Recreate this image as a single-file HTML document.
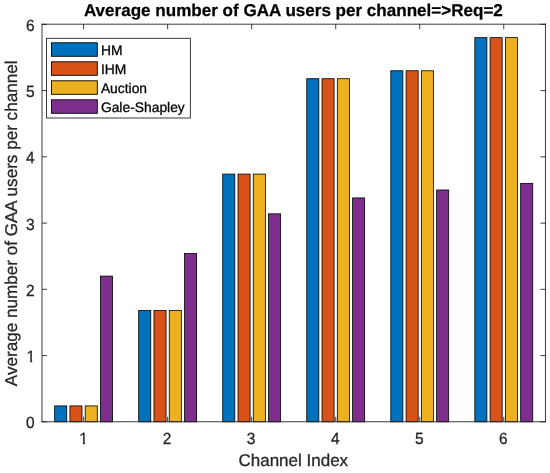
<!DOCTYPE html>
<html lang="en"><head><meta charset="utf-8"><title>Average number of GAA users per channel</title>
<style>html,body{margin:0;padding:0;background:#fff}svg{display:block}text{font-family:"Liberation Sans",Arial,Helvetica,sans-serif;fill:#262626;stroke:#262626;stroke-width:0.28px;text-rendering:geometricPrecision}.tk{font-size:15.5px}.lb{font-size:17.1px}.tt{font-size:17.06px;font-weight:bold;fill:#000;stroke:#000;stroke-width:0.25px}.lg{font-size:13.85px;fill:#000;stroke:#000}</style></head><body>
<svg width="550" height="473" viewBox="0 0 550 473">
<rect x="0" y="0" width="550" height="473" fill="#ffffff"/>
<g stroke="#262626" stroke-width="1" fill="none" stroke-opacity="0.9">
<line x1="83.62" y1="421.75" x2="83.62" y2="416.75"/>
<line x1="83.62" y1="24.2" x2="83.62" y2="29.2"/>
<line x1="167.65" y1="421.75" x2="167.65" y2="416.75"/>
<line x1="167.65" y1="24.2" x2="167.65" y2="29.2"/>
<line x1="251.68" y1="421.75" x2="251.68" y2="416.75"/>
<line x1="251.68" y1="24.2" x2="251.68" y2="29.2"/>
<line x1="335.72" y1="421.75" x2="335.72" y2="416.75"/>
<line x1="335.72" y1="24.2" x2="335.72" y2="29.2"/>
<line x1="419.75" y1="421.75" x2="419.75" y2="416.75"/>
<line x1="419.75" y1="24.2" x2="419.75" y2="29.2"/>
<line x1="503.78" y1="421.75" x2="503.78" y2="416.75"/>
<line x1="503.78" y1="24.2" x2="503.78" y2="29.2"/>
<line x1="42.0" y1="421.80" x2="47.0" y2="421.80"/>
<line x1="545.45" y1="421.80" x2="540.45" y2="421.80"/>
<line x1="42.0" y1="355.57" x2="47.0" y2="355.57"/>
<line x1="545.45" y1="355.57" x2="540.45" y2="355.57"/>
<line x1="42.0" y1="289.33" x2="47.0" y2="289.33"/>
<line x1="545.45" y1="289.33" x2="540.45" y2="289.33"/>
<line x1="42.0" y1="223.10" x2="47.0" y2="223.10"/>
<line x1="545.45" y1="223.10" x2="540.45" y2="223.10"/>
<line x1="42.0" y1="156.87" x2="47.0" y2="156.87"/>
<line x1="545.45" y1="156.87" x2="540.45" y2="156.87"/>
<line x1="42.0" y1="90.63" x2="47.0" y2="90.63"/>
<line x1="545.45" y1="90.63" x2="540.45" y2="90.63"/>
<line x1="42.0" y1="24.40" x2="47.0" y2="24.40"/>
<line x1="545.45" y1="24.40" x2="540.45" y2="24.40"/>
</g>
<g stroke="#000" stroke-width="0.8">
<rect x="54.66" y="405.90" width="12.07" height="15.90" fill="#0072BD"/>
<rect x="69.94" y="405.90" width="12.07" height="15.90" fill="#D95319"/>
<rect x="85.22" y="405.90" width="12.07" height="15.90" fill="#EDB120"/>
<rect x="100.50" y="276.09" width="12.07" height="145.71" fill="#7E2F8E"/>
<rect x="138.70" y="310.53" width="12.07" height="111.27" fill="#0072BD"/>
<rect x="153.98" y="310.53" width="12.07" height="111.27" fill="#D95319"/>
<rect x="169.25" y="310.53" width="12.07" height="111.27" fill="#EDB120"/>
<rect x="184.53" y="253.57" width="12.07" height="168.23" fill="#7E2F8E"/>
<rect x="222.73" y="174.09" width="12.07" height="247.71" fill="#0072BD"/>
<rect x="238.01" y="174.09" width="12.07" height="247.71" fill="#D95319"/>
<rect x="253.29" y="174.09" width="12.07" height="247.71" fill="#EDB120"/>
<rect x="268.57" y="213.83" width="12.07" height="207.97" fill="#7E2F8E"/>
<rect x="306.76" y="78.71" width="12.07" height="343.09" fill="#0072BD"/>
<rect x="322.04" y="78.71" width="12.07" height="343.09" fill="#D95319"/>
<rect x="337.32" y="78.71" width="12.07" height="343.09" fill="#EDB120"/>
<rect x="352.60" y="197.93" width="12.07" height="223.87" fill="#7E2F8E"/>
<rect x="390.80" y="70.76" width="12.07" height="351.04" fill="#0072BD"/>
<rect x="406.08" y="70.76" width="12.07" height="351.04" fill="#D95319"/>
<rect x="421.35" y="70.76" width="12.07" height="351.04" fill="#EDB120"/>
<rect x="436.63" y="189.98" width="12.07" height="231.82" fill="#7E2F8E"/>
<rect x="474.83" y="37.65" width="12.07" height="384.15" fill="#0072BD"/>
<rect x="490.11" y="37.65" width="12.07" height="384.15" fill="#D95319"/>
<rect x="505.39" y="37.65" width="12.07" height="384.15" fill="#EDB120"/>
<rect x="520.67" y="183.36" width="12.07" height="238.44" fill="#7E2F8E"/>
</g>
<g stroke="#262626" stroke-width="1" fill="none" stroke-opacity="0.9" stroke-linecap="square">
<line x1="42.0" y1="24.2" x2="42.0" y2="421.75"/>
<line x1="545.45" y1="24.2" x2="545.45" y2="421.75"/>
<line x1="42.0" y1="24.2" x2="545.45" y2="24.2"/>
<line x1="42.0" y1="421.75" x2="545.45" y2="421.75"/>
</g>
<g class="tk" text-anchor="middle">
<clipPath id="c1x"><rect x="-6.31" y="-16" width="14" height="13.84"/><rect x="-0.68" y="-4" width="1.90" height="8"/></clipPath>
<text transform="translate(83.62,444.2) scale(1,1.045)" clip-path="url(#c1x)">1</text>
<text transform="translate(167.15,444.2) scale(1,1.045)">2</text>
<text transform="translate(251.18,444.2) scale(1,1.045)">3</text>
<text transform="translate(335.22,444.2) scale(1,1.045)">4</text>
<text transform="translate(419.25,444.2) scale(1,1.045)">5</text>
<text transform="translate(503.28,444.2) scale(1,1.045)">6</text>
</g>
<g class="tk" text-anchor="end">
<text transform="translate(34.7,428.40) scale(1,1.045)">0</text>
<clipPath id="c1y"><rect x="-10.62" y="-16" width="14" height="13.84"/><rect x="-4.99" y="-4" width="1.90" height="8"/></clipPath>
<text transform="translate(35.2,362.17) scale(1,1.045)" clip-path="url(#c1y)">1</text>
<text transform="translate(34.7,295.93) scale(1,1.045)">2</text>
<text transform="translate(34.7,229.70) scale(1,1.045)">3</text>
<text transform="translate(34.7,163.47) scale(1,1.045)">4</text>
<text transform="translate(34.7,97.23) scale(1,1.045)">5</text>
<text transform="translate(34.7,31.00) scale(1,1.045)">6</text>
</g>
<text class="lb" style="font-size:17px" text-anchor="middle" x="293.3" y="466.1">Channel Index</text>
<text class="lb" text-anchor="middle" transform="translate(17,223.35) rotate(-90)">Average number of GAA users per channel</text>
<text class="tt" text-anchor="middle" x="293.4" y="16">Average number of GAA users per channel=&gt;Req=2</text>
<rect x="46.5" y="38.35" width="143.90" height="79.65" fill="#fff" stroke="#262626" stroke-width="1" stroke-opacity="0.9"/>
<rect x="51.5" y="42.8" width="45.8" height="13.5" fill="#0072BD" stroke="#000" stroke-width="0.9"/>
<text class="lg" x="100.9" y="55.0">HM</text>
<rect x="51.5" y="61.8" width="45.8" height="13.5" fill="#D95319" stroke="#000" stroke-width="0.9"/>
<text class="lg" x="100.9" y="74.0">IHM</text>
<rect x="51.5" y="80.8" width="45.8" height="13.5" fill="#EDB120" stroke="#000" stroke-width="0.9"/>
<text class="lg" x="100.9" y="93.0">Auction</text>
<rect x="51.5" y="99.8" width="45.8" height="13.5" fill="#7E2F8E" stroke="#000" stroke-width="0.9"/>
<text class="lg" x="100.9" y="112.0">Gale-Shapley</text>
</svg></body></html>
